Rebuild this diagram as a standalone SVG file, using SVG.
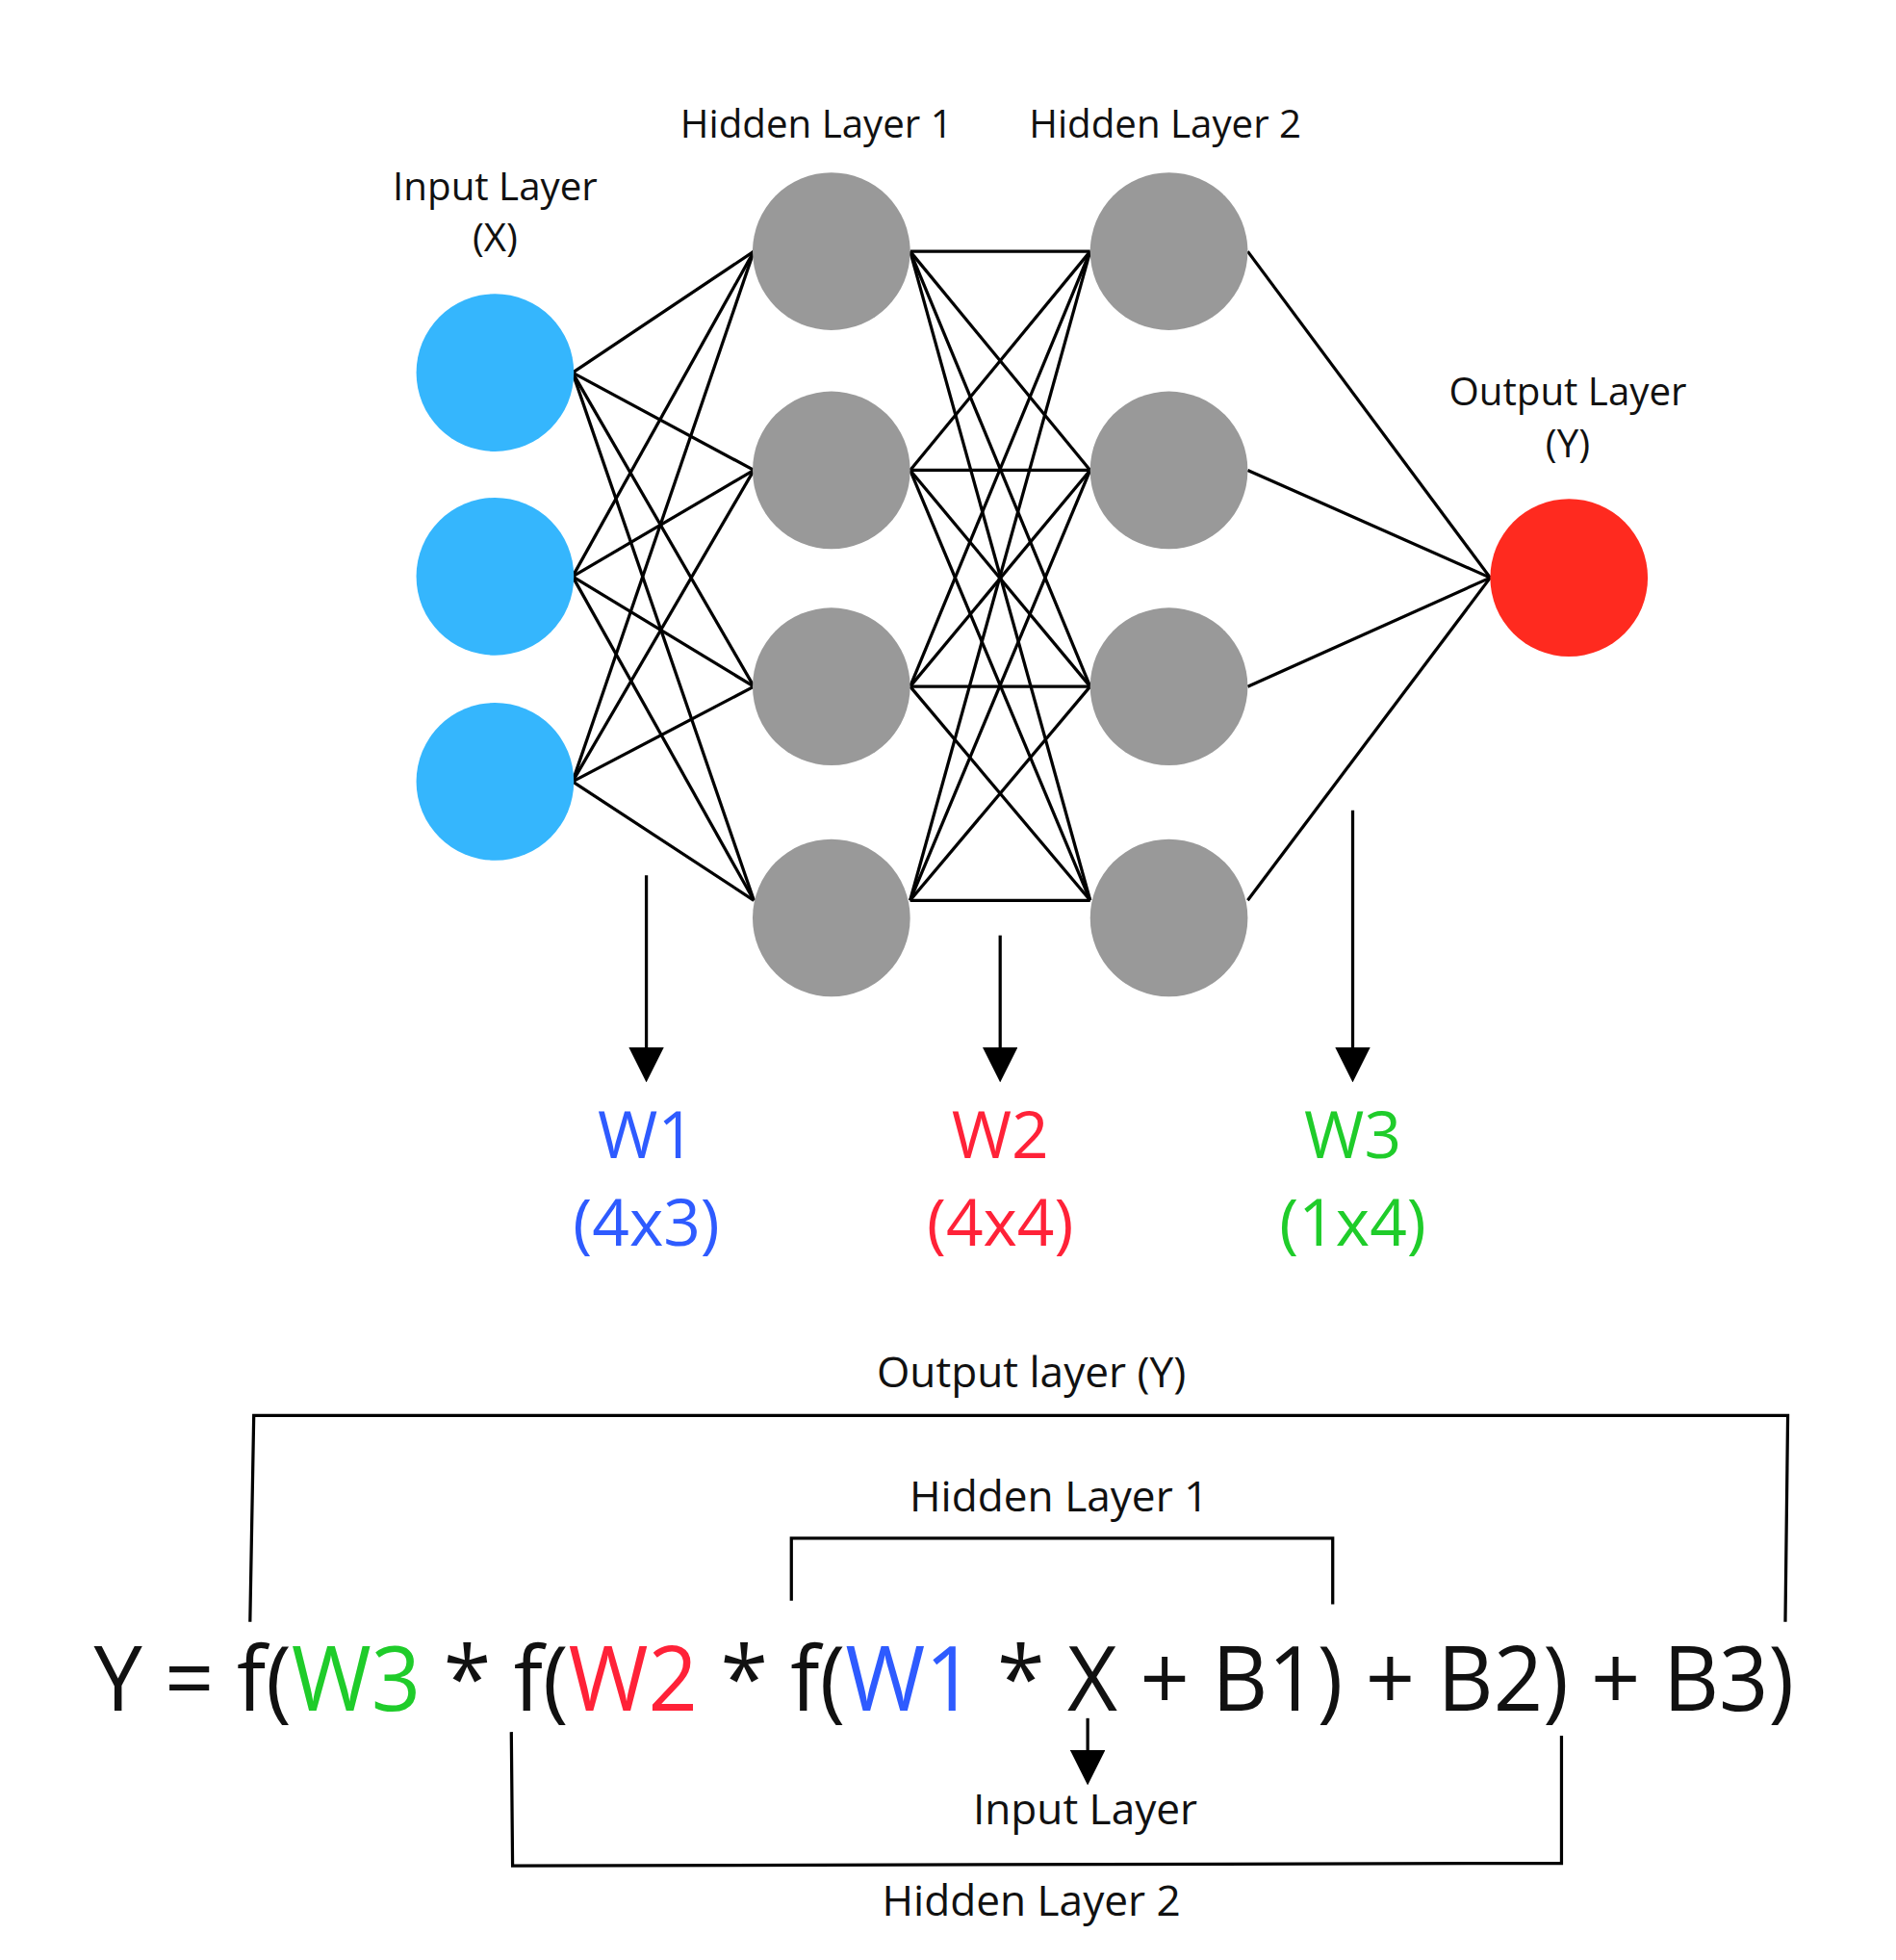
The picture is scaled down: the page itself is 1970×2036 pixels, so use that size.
<svg xmlns="http://www.w3.org/2000/svg" width="1970" height="2036" viewBox="0 0 1970 2036">
<style>
text{font-family:"Open Sans","Liberation Sans",sans-serif;fill:#111;text-anchor:middle}
.lbl{font-size:31px}
.lb2{font-size:34px}
.w{font-size:52px}
.c line,.c polyline{stroke:#000;stroke-width:2.5;fill:none}
.in{fill:#35b6fd}.hid{fill:#999}.out{fill:#ff2a1f}
</style>
<defs>
<marker id="a2" viewBox="0 0 10 10" refX="8" refY="5" markerWidth="28" markerHeight="28" orient="auto" markerUnits="userSpaceOnUse"><path d="M0,0L10,5L0,10z" fill="#000"/></marker></defs>
<rect width="1970" height="2036" fill="#fff"/>
<g transform="scale(1.299)">
<g class="c" id="connectors">
<g id="l1">
<line x1="458" y1="298" x2="603" y2="201"/><line x1="458" y1="298" x2="603" y2="376"/><line x1="458" y1="298" x2="603" y2="549"/><line x1="458" y1="298" x2="603" y2="720"/>
<line x1="458" y1="461" x2="603" y2="201"/><line x1="458" y1="461" x2="603" y2="376"/><line x1="458" y1="461" x2="603" y2="549"/><line x1="458" y1="461" x2="603" y2="720"/>
<line x1="458" y1="625" x2="603" y2="201"/><line x1="458" y1="625" x2="603" y2="376"/><line x1="458" y1="625" x2="603" y2="549"/><line x1="458" y1="625" x2="603" y2="720"/>
</g>
<g id="l2">
<line x1="728" y1="201" x2="872" y2="201"/><line x1="728" y1="201" x2="872" y2="376"/><line x1="728" y1="201" x2="872" y2="549"/><line x1="728" y1="201" x2="872" y2="720"/>
<line x1="728" y1="376" x2="872" y2="201"/><line x1="728" y1="376" x2="872" y2="376"/><line x1="728" y1="376" x2="872" y2="549"/><line x1="728" y1="376" x2="872" y2="720"/>
<line x1="728" y1="549" x2="872" y2="201"/><line x1="728" y1="549" x2="872" y2="376"/><line x1="728" y1="549" x2="872" y2="549"/><line x1="728" y1="549" x2="872" y2="720"/>
<line x1="728" y1="720" x2="872" y2="201"/><line x1="728" y1="720" x2="872" y2="376"/><line x1="728" y1="720" x2="872" y2="549"/><line x1="728" y1="720" x2="872" y2="720"/>
</g>
<g id="l3">
<line x1="998" y1="201" x2="1192" y2="462"/><line x1="998" y1="376" x2="1192" y2="462"/><line x1="998" y1="549" x2="1192" y2="462"/><line x1="998" y1="720" x2="1192" y2="462"/>
</g>
<line x1="517" y1="700" x2="517" y2="860" marker-end="url(#a2)"/>
<line x1="800" y1="748" x2="800" y2="860" marker-end="url(#a2)"/>
<line x1="1082" y1="648" x2="1082" y2="860" marker-end="url(#a2)"/>
<polyline points="200,1297 203,1132 1430,1132 1428,1297"/>
<polyline points="633,1280 633,1230 1066,1230 1066,1283"/>
<polyline points="409,1385 410,1492 1249,1490 1249,1388"/>
<line x1="870" y1="1374" x2="870" y2="1422" marker-end="url(#a2)"/>
</g>
<g id="input"><circle class="in" cx="396" cy="298" r="63"/><circle class="in" cx="396" cy="461" r="63"/><circle class="in" cx="396" cy="625" r="63"/></g>
<g id="hidden1"><circle class="hid" cx="665" cy="201" r="63"/><circle class="hid" cx="665" cy="376" r="63"/><circle class="hid" cx="665" cy="549" r="63"/><circle class="hid" cx="665" cy="734" r="63"/></g>
<g id="hidden2"><circle class="hid" cx="935" cy="201" r="63"/><circle class="hid" cx="935" cy="376" r="63"/><circle class="hid" cx="935" cy="549" r="63"/><circle class="hid" cx="935" cy="734" r="63"/></g>
<g id="output"><circle class="out" cx="1255" cy="462" r="63"/></g>
<g id="labels">
<text class="lbl" x="653" y="110">Hidden Layer 1</text>
<text class="lbl" x="932" y="110">Hidden Layer 2</text>
<text class="lbl" x="396" y="160">Input Layer</text><text class="lbl" x="396" y="201">(X)</text>
<text class="lbl" x="1254" y="324">Output Layer</text><text class="lbl" x="1254" y="366">(Y)</text>
<text class="w" x="517" y="926" style="fill:#2e5bff">W1</text><text class="w" x="517" y="996" style="fill:#2e5bff">(4x3)</text>
<text class="w" x="800" y="926" style="fill:#ff2238">W2</text><text class="w" x="800" y="996" style="fill:#ff2238">(4x4)</text>
<text class="w" x="1082" y="926" style="fill:#1fcc2a">W3</text><text class="w" x="1082" y="996" style="fill:#1fcc2a">(1x4)</text>
<text class="lb2" x="825" y="1109">Output layer (Y)</text>
<text class="lb2" x="847" y="1209">Hidden Layer 1</text>
<text class="lb2" x="868" y="1459">Input Layer</text>
<text class="lb2" x="825" y="1532">Hidden Layer 2</text>
<text x="755" y="1368" style="font-size:72px" textLength="1360" lengthAdjust="spacingAndGlyphs">Y = f(<tspan style="fill:#1fcc2a">W3</tspan> * f(<tspan style="fill:#ff2238">W2</tspan> * f(<tspan style="fill:#2e5bff">W1</tspan> * X + B1) + B2) + B3)</text>
</g>
</g>
</svg>
